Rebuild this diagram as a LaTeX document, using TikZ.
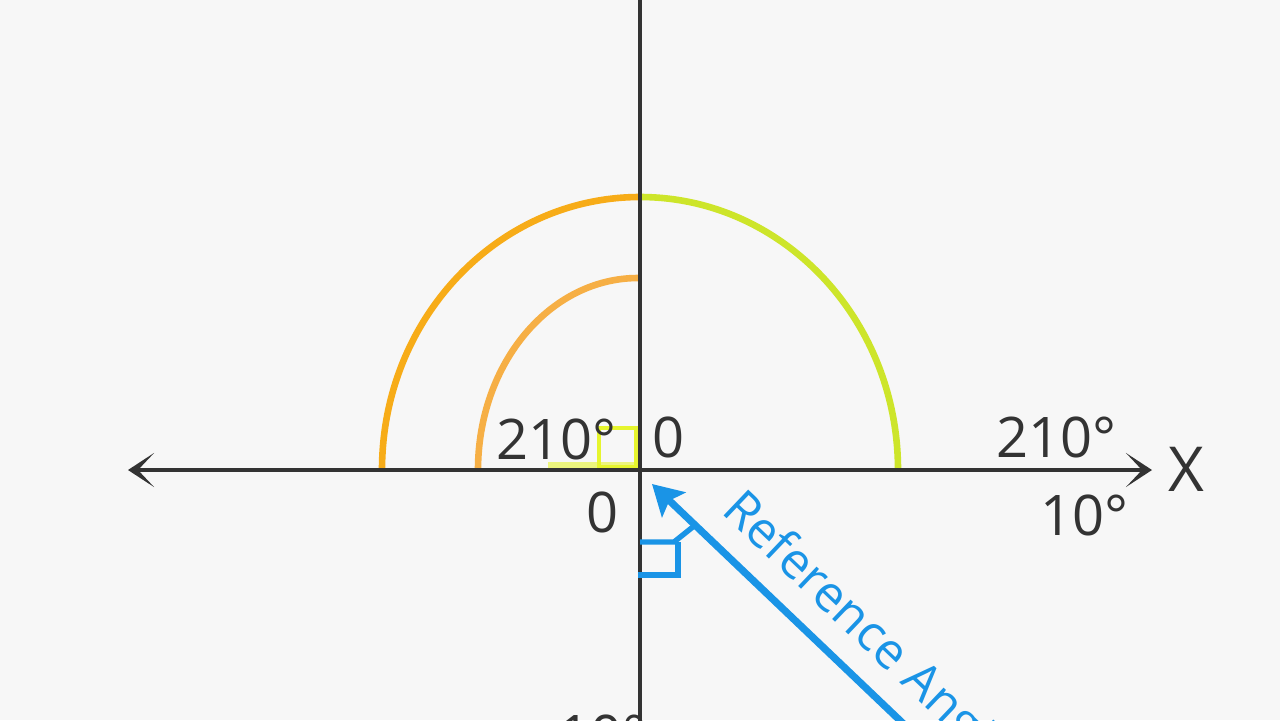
\documentclass[tikz,border=0pt]{standalone}
\usepackage{fontspec}
\setmainfont{Open Sans}
\usetikzlibrary{arrows.meta}
\definecolor{bg}{HTML}{F7F7F7}
\definecolor{axisc}{HTML}{333333}
\definecolor{orangeA}{HTML}{F7AC18}
\definecolor{orangeB}{HTML}{F6AF45}
\definecolor{limeA}{HTML}{CDE52A}
\definecolor{yelsq}{HTML}{E6F52E}
\definecolor{blueA}{HTML}{1A94E6}
\tikzset{
  axisline/.style={draw=axisc, line width=2pt},
  axtip/.style={-{Stealth[length=13pt,width=17pt,inset=8pt]}},
  arcline/.style={line width=3.3pt},
  lbl/.style={text=axisc, font=\fontsize{28pt}{30pt}\selectfont, inner sep=0pt},
  bluearrow/.style={draw=blueA, line width=3.6pt, -{Stealth[length=15pt,width=17pt,inset=3pt]}},
  bluemark/.style={draw=blueA, line width=2.7pt},
}
\begin{document}
\begin{tikzpicture}[x=0.5pt,y=-0.5pt]
\fill[bg] (0,0) rectangle (1280,720);
\useasboundingbox (0,0) rectangle (1280,720);
\clip (0,0) rectangle (1280,720);
% coordinates
\coordinate (O) at (640,470);
\coordinate (xl) at (128,470);
\coordinate (xr) at (1152,470);
\coordinate (yt) at (640,-5);
\coordinate (yb) at (640,725);
% arcs
\draw[arcline, orangeA] (382,470) arc[start angle=180,end angle=270,x radius=258,y radius=273];
\draw[arcline, limeA] (640,197) arc[start angle=270,end angle=360,x radius=258,y radius=273];
\draw[arcline, orangeB] (478,470) arc[start angle=180,end angle=270,x radius=160,y radius=192];
% yellow square and band
\draw[yelsq, line width=4pt, opacity=0.6] (548,466) -- (636,466);
\draw[yelsq, line width=2.4pt] (599,467) rectangle (636,428);
% axes
\draw[axisline] (yt) -- (yb);
\draw[axisline, axtip] (O) -- (xr);
\draw[axisline, axtip] (O) -- (xl);
% labels
\node[lbl, anchor=base west] (l210a) at (496,459) {210°};
\node[lbl, anchor=base west] (l0a) at (652,457) {0};
\node[lbl, anchor=base west] (l210b) at (996,457) {210°};
\node[lbl, anchor=base west] (l10) at (1040,535) {10°};
\node[lbl, anchor=base west] (l0b) at (586,532) {0};
\node[lbl, anchor=base west, font=\fontsize{31pt}{33pt}\selectfont] (lx) at (1168,491) {X};
\node[lbl, anchor=north west] (l10c) at (558,714) {10°};
% blue reference arrow
\coordinate (bs) at (910,730);
\coordinate (bt) at (652,484);
\draw[bluearrow] (bs) -- (bt);
\draw[bluemark] (640,542) -- (674,542) -- (694,526);
\draw[bluemark] (638,575) -- (678,575) -- (678,542);
\node[text=blueA, font=\fontsize{25pt}{27pt}\selectfont, inner sep=0pt, rotate=-43.6, anchor=base west] (ref) at (720,512) {Reference Angle};
\end{tikzpicture}
\end{document}
